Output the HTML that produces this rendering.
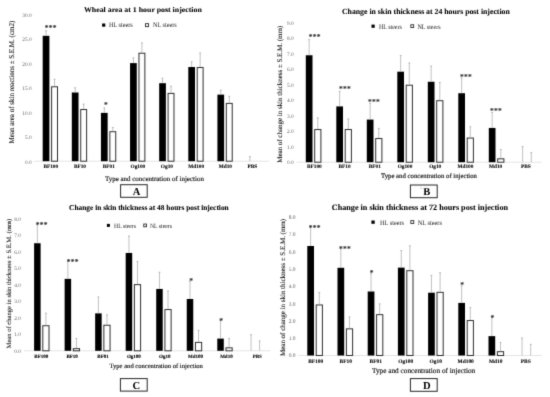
<!DOCTYPE html>
<html><head><meta charset="utf-8"><title>Skin reaction figure</title>
<style>html,body{margin:0;padding:0;background:#fff;width:550px;height:397px;overflow:hidden}svg{display:block}</style>
</head><body>
<svg width="550" height="397" viewBox="0 0 550 397" text-rendering="geometricPrecision" font-family='"Liberation Serif", "Times New Roman", serif'>
<defs><filter id="soft" filterUnits="userSpaceOnUse" x="0" y="0" width="550" height="397" color-interpolation-filters="sRGB"><feConvolveMatrix order="3" kernelMatrix="0.0144 0.0912 0.0144 0.0912 0.5776 0.0912 0.0144 0.0912 0.0144" edgeMode="duplicate"/></filter></defs><rect width="550" height="397" fill="#fff"/><g filter="url(#soft)"><rect width="550" height="397" fill="#fff"/>
<g id="panelA"><line x1="34.2" y1="161.2" x2="269" y2="161.2" stroke="#d9d9d9" stroke-width="0.7"/>
<text x="31.6" y="163.51" font-size="5.3" fill="#656565" text-anchor="end">0.0</text>
<text x="31.6" y="139.01" font-size="5.3" fill="#656565" text-anchor="end">5.0</text>
<text x="31.6" y="114.51" font-size="5.3" fill="#656565" text-anchor="end">10.0</text>
<text x="31.6" y="90.01" font-size="5.3" fill="#656565" text-anchor="end">15.0</text>
<text x="31.6" y="65.51" font-size="5.3" fill="#656565" text-anchor="end">20.0</text>
<text x="31.6" y="41.01" font-size="5.3" fill="#656565" text-anchor="end">25.0</text>
<text x="31.6" y="16.51" font-size="5.3" fill="#656565" text-anchor="end">30.0</text>
<rect x="42.7" y="35.81" width="6.7" height="125.39" fill="#000"/>
<line x1="46.05" y1="35.81" x2="46.05" y2="30.42" stroke="#b3b3b3" stroke-width="0.8"/>
<line x1="45.15" y1="30.77" x2="46.95" y2="30.77" stroke="#a0a0a0" stroke-width="0.7"/>
<rect x="51.6" y="86.78" width="5.9" height="74.42" fill="#fff" stroke="#2e2e2e" stroke-width="1.0"/>
<line x1="54.55" y1="86.28" x2="54.55" y2="78.98" stroke="#b3b3b3" stroke-width="0.8"/>
<line x1="53.65" y1="79.33" x2="55.45" y2="79.33" stroke="#a0a0a0" stroke-width="0.7"/>
<text x="50.8" y="168.45" font-size="5.3" font-weight="bold" fill="#000" stroke="#000" stroke-width="0.1" text-anchor="middle">BF100</text>
<rect x="71.82" y="92.5" width="6.7" height="68.7" fill="#000"/>
<line x1="75.17" y1="92.5" x2="75.17" y2="87.5" stroke="#b3b3b3" stroke-width="0.8"/>
<line x1="74.27" y1="87.85" x2="76.07" y2="87.85" stroke="#a0a0a0" stroke-width="0.7"/>
<rect x="80.72" y="109.51" width="5.9" height="51.69" fill="#fff" stroke="#2e2e2e" stroke-width="1.0"/>
<line x1="83.67" y1="109.01" x2="83.67" y2="103.82" stroke="#b3b3b3" stroke-width="0.8"/>
<line x1="82.77" y1="104.17" x2="84.57" y2="104.17" stroke="#a0a0a0" stroke-width="0.7"/>
<text x="80" y="168.45" font-size="5.3" font-weight="bold" fill="#000" stroke="#000" stroke-width="0.1" text-anchor="middle">BF10</text>
<rect x="100.94" y="112.89" width="6.7" height="48.31" fill="#000"/>
<line x1="104.29" y1="112.89" x2="104.29" y2="107.69" stroke="#b3b3b3" stroke-width="0.8"/>
<line x1="103.39" y1="108.04" x2="105.19" y2="108.04" stroke="#a0a0a0" stroke-width="0.7"/>
<rect x="109.84" y="131.71" width="5.9" height="29.49" fill="#fff" stroke="#2e2e2e" stroke-width="1.0"/>
<line x1="112.79" y1="131.21" x2="112.79" y2="127.19" stroke="#b3b3b3" stroke-width="0.8"/>
<line x1="111.89" y1="127.54" x2="113.69" y2="127.54" stroke="#a0a0a0" stroke-width="0.7"/>
<text x="108.8" y="168.45" font-size="5.3" font-weight="bold" fill="#000" stroke="#000" stroke-width="0.1" text-anchor="middle">BF01</text>
<rect x="130.06" y="63.1" width="6.7" height="98.1" fill="#000"/>
<line x1="133.41" y1="63.1" x2="133.41" y2="57.61" stroke="#b3b3b3" stroke-width="0.8"/>
<line x1="132.51" y1="57.96" x2="134.31" y2="57.96" stroke="#a0a0a0" stroke-width="0.7"/>
<rect x="138.96" y="53.21" width="5.9" height="107.99" fill="#fff" stroke="#2e2e2e" stroke-width="1.0"/>
<line x1="141.91" y1="52.71" x2="141.91" y2="42.62" stroke="#b3b3b3" stroke-width="0.8"/>
<line x1="141.01" y1="42.97" x2="142.81" y2="42.97" stroke="#a0a0a0" stroke-width="0.7"/>
<text x="137.9" y="168.45" font-size="5.3" font-weight="bold" fill="#000" stroke="#000" stroke-width="0.1" text-anchor="middle">Og100</text>
<rect x="159.18" y="83.19" width="6.7" height="78.01" fill="#000"/>
<line x1="162.53" y1="83.19" x2="162.53" y2="77.9" stroke="#b3b3b3" stroke-width="0.8"/>
<line x1="161.63" y1="78.25" x2="163.43" y2="78.25" stroke="#a0a0a0" stroke-width="0.7"/>
<rect x="168.08" y="93.39" width="5.9" height="67.81" fill="#fff" stroke="#2e2e2e" stroke-width="1.0"/>
<line x1="171.03" y1="92.89" x2="171.03" y2="85.89" stroke="#b3b3b3" stroke-width="0.8"/>
<line x1="170.13" y1="86.24" x2="171.93" y2="86.24" stroke="#a0a0a0" stroke-width="0.7"/>
<text x="166.9" y="168.45" font-size="5.3" font-weight="bold" fill="#000" stroke="#000" stroke-width="0.1" text-anchor="middle">Og10</text>
<rect x="188.3" y="67.02" width="6.7" height="94.18" fill="#000"/>
<line x1="191.65" y1="67.02" x2="191.65" y2="61.53" stroke="#b3b3b3" stroke-width="0.8"/>
<line x1="190.75" y1="61.88" x2="192.55" y2="61.88" stroke="#a0a0a0" stroke-width="0.7"/>
<rect x="197.2" y="67.52" width="5.9" height="93.68" fill="#fff" stroke="#2e2e2e" stroke-width="1.0"/>
<line x1="200.15" y1="67.02" x2="200.15" y2="52.71" stroke="#b3b3b3" stroke-width="0.8"/>
<line x1="199.25" y1="53.06" x2="201.05" y2="53.06" stroke="#a0a0a0" stroke-width="0.7"/>
<text x="196.2" y="168.45" font-size="5.3" font-weight="bold" fill="#000" stroke="#000" stroke-width="0.1" text-anchor="middle">Md100</text>
<rect x="217.42" y="94.61" width="6.7" height="66.59" fill="#000"/>
<line x1="220.77" y1="94.61" x2="220.77" y2="89.9" stroke="#b3b3b3" stroke-width="0.8"/>
<line x1="219.87" y1="90.25" x2="221.67" y2="90.25" stroke="#a0a0a0" stroke-width="0.7"/>
<rect x="226.32" y="103.39" width="5.9" height="57.81" fill="#fff" stroke="#2e2e2e" stroke-width="1.0"/>
<line x1="229.27" y1="102.89" x2="229.27" y2="95.98" stroke="#b3b3b3" stroke-width="0.8"/>
<line x1="228.37" y1="96.33" x2="230.17" y2="96.33" stroke="#a0a0a0" stroke-width="0.7"/>
<text x="225.4" y="168.45" font-size="5.3" font-weight="bold" fill="#000" stroke="#000" stroke-width="0.1" text-anchor="middle">Md10</text>
<line x1="249.89" y1="161.2" x2="249.89" y2="156.3" stroke="#b3b3b3" stroke-width="0.8"/>
<line x1="248.99" y1="156.65" x2="250.79" y2="156.65" stroke="#a0a0a0" stroke-width="0.7"/>
<text x="252.3" y="168.45" font-size="5.3" font-weight="bold" fill="#000" stroke="#000" stroke-width="0.1" text-anchor="middle">PBS</text>
<text x="44.65" y="30.05" font-size="7.6" font-weight="bold" fill="#2a2a2a" stroke="#2a2a2a" stroke-width="0.1" letter-spacing="0.2">***</text>
<text x="104.05" y="107.25" font-size="7.6" font-weight="bold" fill="#2a2a2a" stroke="#2a2a2a" stroke-width="0.1" letter-spacing="0.2">*</text>
<text x="84" y="11.95" font-size="7.3" font-weight="bold" fill="#000" stroke="#000" stroke-width="0.06" textLength="117.8" lengthAdjust="spacingAndGlyphs">Wheal area at 1 hour post injection</text>
<rect x="102.1" y="23.5" width="3.2" height="3.2" fill="#000"/>
<rect x="145.55" y="23.65" width="3" height="3" fill="#fff" stroke="#2a2a2a" stroke-width="0.9"/>
<text x="108.9" y="26.8" font-size="7.0" fill="#1a1a1a" textLength="23.9" lengthAdjust="spacingAndGlyphs">HL steers</text>
<text x="153" y="26.8" font-size="7.0" fill="#1a1a1a" textLength="23.6" lengthAdjust="spacingAndGlyphs">NL steers</text>
<text x="104.9" y="180.7" font-size="7.0" fill="#111" stroke="#111" stroke-width="0.15" textLength="99" lengthAdjust="spacingAndGlyphs">Type and concentration of injection</text>
<rect x="120.6" y="184.7" width="26.6" height="12.6" fill="none" stroke="#262626" stroke-width="1"/>
<text x="132.7" y="195.3" font-size="10.5" font-weight="bold" fill="#000">A</text>
<text x="129.2" y="193.3" font-size="8" fill="#c8c8c8">`</text>
<text transform="translate(14.4,143.4) rotate(-90)" x="0" y="0" font-size="7.4" fill="#111" stroke="#111" stroke-width="0.08" textLength="122.7" lengthAdjust="spacingAndGlyphs">Mean area of skin reactions ± S.E.M. (cm2)</text></g>
<g id="panelB"><line x1="296.5" y1="162.2" x2="541.8" y2="162.2" stroke="#d9d9d9" stroke-width="0.7"/>
<text x="293.8" y="164.14" font-size="5.4" fill="#656565" text-anchor="end">0.0</text>
<text x="293.8" y="148.64" font-size="5.4" fill="#656565" text-anchor="end">1.0</text>
<text x="293.8" y="133.14" font-size="5.4" fill="#656565" text-anchor="end">2.0</text>
<text x="293.8" y="117.64" font-size="5.4" fill="#656565" text-anchor="end">3.0</text>
<text x="293.8" y="102.14" font-size="5.4" fill="#656565" text-anchor="end">4.0</text>
<text x="293.8" y="86.64" font-size="5.4" fill="#656565" text-anchor="end">5.0</text>
<text x="293.8" y="71.14" font-size="5.4" fill="#656565" text-anchor="end">6.0</text>
<text x="293.8" y="55.64" font-size="5.4" fill="#656565" text-anchor="end">7.0</text>
<text x="293.8" y="40.14" font-size="5.4" fill="#656565" text-anchor="end">8.0</text>
<text x="293.8" y="24.64" font-size="5.4" fill="#656565" text-anchor="end">9.0</text>
<rect x="305.8" y="55.25" width="6.7" height="106.95" fill="#000"/>
<line x1="309.15" y1="55.25" x2="309.15" y2="39.28" stroke="#b3b3b3" stroke-width="0.8"/>
<line x1="308.25" y1="39.63" x2="310.05" y2="39.63" stroke="#a0a0a0" stroke-width="0.7"/>
<rect x="314.7" y="129.53" width="6.2" height="32.67" fill="#fff" stroke="#2e2e2e" stroke-width="1.0"/>
<line x1="317.8" y1="129.03" x2="317.8" y2="117.56" stroke="#b3b3b3" stroke-width="0.8"/>
<line x1="316.9" y1="117.91" x2="318.7" y2="117.91" stroke="#a0a0a0" stroke-width="0.7"/>
<text x="314.4" y="168.35" font-size="5.3" font-weight="bold" fill="#000" stroke="#000" stroke-width="0.1" text-anchor="middle">BF100</text>
<rect x="336.3" y="106.4" width="6.7" height="55.8" fill="#000"/>
<line x1="339.65" y1="106.4" x2="339.65" y2="90.9" stroke="#b3b3b3" stroke-width="0.8"/>
<line x1="338.75" y1="91.25" x2="340.55" y2="91.25" stroke="#a0a0a0" stroke-width="0.7"/>
<rect x="345.2" y="129.53" width="6.2" height="32.67" fill="#fff" stroke="#2e2e2e" stroke-width="1.0"/>
<line x1="348.3" y1="129.03" x2="348.3" y2="118.64" stroke="#b3b3b3" stroke-width="0.8"/>
<line x1="347.4" y1="118.99" x2="349.2" y2="118.99" stroke="#a0a0a0" stroke-width="0.7"/>
<text x="344.6" y="168.35" font-size="5.3" font-weight="bold" fill="#000" stroke="#000" stroke-width="0.1" text-anchor="middle">BF10</text>
<rect x="366.8" y="119.57" width="6.7" height="42.62" fill="#000"/>
<line x1="370.15" y1="119.57" x2="370.15" y2="102.99" stroke="#b3b3b3" stroke-width="0.8"/>
<line x1="369.25" y1="103.34" x2="371.05" y2="103.34" stroke="#a0a0a0" stroke-width="0.7"/>
<rect x="375.7" y="138.52" width="6.2" height="23.68" fill="#fff" stroke="#2e2e2e" stroke-width="1.0"/>
<line x1="378.8" y1="138.02" x2="378.8" y2="128.1" stroke="#b3b3b3" stroke-width="0.8"/>
<line x1="377.9" y1="128.45" x2="379.7" y2="128.45" stroke="#a0a0a0" stroke-width="0.7"/>
<text x="374.8" y="168.35" font-size="5.3" font-weight="bold" fill="#000" stroke="#000" stroke-width="0.1" text-anchor="middle">BF01</text>
<rect x="397.3" y="71.68" width="6.7" height="90.52" fill="#000"/>
<line x1="400.65" y1="71.68" x2="400.65" y2="55.25" stroke="#b3b3b3" stroke-width="0.8"/>
<line x1="399.75" y1="55.6" x2="401.55" y2="55.6" stroke="#a0a0a0" stroke-width="0.7"/>
<rect x="406.2" y="85.2" width="6.2" height="77" fill="#fff" stroke="#2e2e2e" stroke-width="1.0"/>
<line x1="409.3" y1="84.7" x2="409.3" y2="62.69" stroke="#b3b3b3" stroke-width="0.8"/>
<line x1="408.4" y1="63.04" x2="410.2" y2="63.04" stroke="#a0a0a0" stroke-width="0.7"/>
<text x="405" y="168.35" font-size="5.3" font-weight="bold" fill="#000" stroke="#000" stroke-width="0.1" text-anchor="middle">Og100</text>
<rect x="427.8" y="81.75" width="6.7" height="80.45" fill="#000"/>
<line x1="431.15" y1="81.75" x2="431.15" y2="65.79" stroke="#b3b3b3" stroke-width="0.8"/>
<line x1="430.25" y1="66.14" x2="432.05" y2="66.14" stroke="#a0a0a0" stroke-width="0.7"/>
<rect x="436.7" y="100.7" width="6.2" height="61.5" fill="#fff" stroke="#2e2e2e" stroke-width="1.0"/>
<line x1="439.8" y1="100.2" x2="439.8" y2="82.06" stroke="#b3b3b3" stroke-width="0.8"/>
<line x1="438.9" y1="82.41" x2="440.7" y2="82.41" stroke="#a0a0a0" stroke-width="0.7"/>
<text x="435.2" y="168.35" font-size="5.3" font-weight="bold" fill="#000" stroke="#000" stroke-width="0.1" text-anchor="middle">Og10</text>
<rect x="458.3" y="93.22" width="6.7" height="68.98" fill="#000"/>
<line x1="461.65" y1="93.22" x2="461.65" y2="77.72" stroke="#b3b3b3" stroke-width="0.8"/>
<line x1="460.75" y1="78.07" x2="462.55" y2="78.07" stroke="#a0a0a0" stroke-width="0.7"/>
<rect x="467.2" y="138.05" width="6.2" height="24.14" fill="#fff" stroke="#2e2e2e" stroke-width="1.0"/>
<line x1="470.3" y1="137.55" x2="470.3" y2="126.39" stroke="#b3b3b3" stroke-width="0.8"/>
<line x1="469.4" y1="126.74" x2="471.2" y2="126.74" stroke="#a0a0a0" stroke-width="0.7"/>
<text x="465.4" y="168.35" font-size="5.3" font-weight="bold" fill="#000" stroke="#000" stroke-width="0.1" text-anchor="middle">Md100</text>
<rect x="488.8" y="127.94" width="6.7" height="34.26" fill="#000"/>
<line x1="492.15" y1="127.94" x2="492.15" y2="112.13" stroke="#b3b3b3" stroke-width="0.8"/>
<line x1="491.25" y1="112.48" x2="493.05" y2="112.48" stroke="#a0a0a0" stroke-width="0.7"/>
<rect x="497.7" y="158.82" width="6.2" height="3.38" fill="#fff" stroke="#2e2e2e" stroke-width="1.0"/>
<line x1="500.8" y1="158.32" x2="500.8" y2="149.18" stroke="#b3b3b3" stroke-width="0.8"/>
<line x1="499.9" y1="149.53" x2="501.7" y2="149.53" stroke="#a0a0a0" stroke-width="0.7"/>
<text x="495.6" y="168.35" font-size="5.3" font-weight="bold" fill="#000" stroke="#000" stroke-width="0.1" text-anchor="middle">Md10</text>
<line x1="522.65" y1="162.2" x2="522.65" y2="146.23" stroke="#b3b3b3" stroke-width="0.8"/>
<line x1="521.75" y1="146.58" x2="523.55" y2="146.58" stroke="#a0a0a0" stroke-width="0.7"/>
<line x1="531.3" y1="162.2" x2="531.3" y2="152.28" stroke="#b3b3b3" stroke-width="0.8"/>
<line x1="530.4" y1="152.63" x2="532.2" y2="152.63" stroke="#a0a0a0" stroke-width="0.7"/>
<text x="525.8" y="168.35" font-size="5.3" font-weight="bold" fill="#000" stroke="#000" stroke-width="0.1" text-anchor="middle">PBS</text>
<text x="308.65" y="39.25" font-size="7.6" font-weight="bold" fill="#2a2a2a" stroke="#2a2a2a" stroke-width="0.1" letter-spacing="0.2">***</text>
<text x="339.05" y="91.05" font-size="7.6" font-weight="bold" fill="#2a2a2a" stroke="#2a2a2a" stroke-width="0.1" letter-spacing="0.2">***</text>
<text x="367.95" y="104.15" font-size="7.6" font-weight="bold" fill="#2a2a2a" stroke="#2a2a2a" stroke-width="0.1" letter-spacing="0.2">***</text>
<text x="460.05" y="78.65" font-size="7.6" font-weight="bold" fill="#2a2a2a" stroke="#2a2a2a" stroke-width="0.1" letter-spacing="0.2">***</text>
<text x="490.05" y="113.15" font-size="7.6" font-weight="bold" fill="#2a2a2a" stroke="#2a2a2a" stroke-width="0.1" letter-spacing="0.2">***</text>
<text x="342" y="13.8" font-size="7.76" font-weight="bold" fill="#000" stroke="#000" stroke-width="0.06" textLength="167.8" lengthAdjust="spacingAndGlyphs">Change in skin thickness at 24 hours post injection</text>
<rect x="371.5" y="24.6" width="3.2" height="3.2" fill="#000"/>
<rect x="410.85" y="24.75" width="2.8" height="2.8" fill="#fff" stroke="#2a2a2a" stroke-width="0.9"/>
<text x="378.9" y="29" font-size="6.8" fill="#1a1a1a" textLength="22.9" lengthAdjust="spacingAndGlyphs">HL steers</text>
<text x="417.4" y="29" font-size="6.8" fill="#1a1a1a" textLength="23.2" lengthAdjust="spacingAndGlyphs">NL steers</text>
<text x="381" y="178.3" font-size="6.76" fill="#111" stroke="#111" stroke-width="0.15" textLength="96" lengthAdjust="spacingAndGlyphs">Type and concentration of injection</text>
<rect x="410.4" y="185" width="26.8" height="12.7" fill="none" stroke="#262626" stroke-width="1"/>
<text x="423.29" y="195.4" font-size="10.5" font-weight="bold" fill="#000">B</text>
<text x="419.8" y="193.4" font-size="8" fill="#8a8a8a">`</text>
<text transform="translate(281.7,162.8) rotate(-90)" x="0" y="0" font-size="7.0" fill="#111" stroke="#111" stroke-width="0.08" textLength="137" lengthAdjust="spacingAndGlyphs">Mean of change in skin thickness ± S.E.M. (mm)</text></g>
<g id="panelC"><line x1="24" y1="350.8" x2="270" y2="350.8" stroke="#d9d9d9" stroke-width="0.7"/>
<text x="21" y="352.74" font-size="5.4" fill="#656565" text-anchor="end">0.0</text>
<text x="21" y="336.24" font-size="5.4" fill="#656565" text-anchor="end">1.0</text>
<text x="21" y="319.74" font-size="5.4" fill="#656565" text-anchor="end">2.0</text>
<text x="21" y="303.24" font-size="5.4" fill="#656565" text-anchor="end">3.0</text>
<text x="21" y="286.74" font-size="5.4" fill="#656565" text-anchor="end">4.0</text>
<text x="21" y="270.24" font-size="5.4" fill="#656565" text-anchor="end">5.0</text>
<text x="21" y="253.74" font-size="5.4" fill="#656565" text-anchor="end">6.0</text>
<text x="21" y="237.24" font-size="5.4" fill="#656565" text-anchor="end">7.0</text>
<text x="21" y="220.74" font-size="5.4" fill="#656565" text-anchor="end">8.0</text>
<rect x="34.1" y="243.22" width="6.5" height="107.58" fill="#000"/>
<line x1="37.35" y1="243.22" x2="37.35" y2="224.41" stroke="#b3b3b3" stroke-width="0.8"/>
<line x1="36.45" y1="224.76" x2="38.25" y2="224.76" stroke="#a0a0a0" stroke-width="0.7"/>
<rect x="42.8" y="325.73" width="6.2" height="25.07" fill="#fff" stroke="#2e2e2e" stroke-width="1.0"/>
<line x1="45.9" y1="325.23" x2="45.9" y2="312.85" stroke="#b3b3b3" stroke-width="0.8"/>
<line x1="45" y1="313.2" x2="46.8" y2="313.2" stroke="#a0a0a0" stroke-width="0.7"/>
<text x="41.3" y="358.25" font-size="5.0" font-weight="bold" fill="#000" stroke="#000" stroke-width="0.1" text-anchor="middle">BF100</text>
<rect x="64.63" y="278.86" width="6.5" height="71.94" fill="#000"/>
<line x1="67.88" y1="278.86" x2="67.88" y2="260.71" stroke="#b3b3b3" stroke-width="0.8"/>
<line x1="66.98" y1="261.06" x2="68.78" y2="261.06" stroke="#a0a0a0" stroke-width="0.7"/>
<rect x="73.33" y="348.66" width="6.2" height="2.14" fill="#fff" stroke="#2e2e2e" stroke-width="1.0"/>
<line x1="76.43" y1="348.16" x2="76.43" y2="338.1" stroke="#b3b3b3" stroke-width="0.8"/>
<line x1="75.53" y1="338.45" x2="77.33" y2="338.45" stroke="#a0a0a0" stroke-width="0.7"/>
<text x="72.15" y="358.25" font-size="5.0" font-weight="bold" fill="#000" stroke="#000" stroke-width="0.1" text-anchor="middle">BF10</text>
<rect x="95.16" y="313.35" width="6.5" height="37.45" fill="#000"/>
<line x1="98.41" y1="313.35" x2="98.41" y2="296.68" stroke="#b3b3b3" stroke-width="0.8"/>
<line x1="97.51" y1="297.03" x2="99.31" y2="297.03" stroke="#a0a0a0" stroke-width="0.7"/>
<rect x="103.86" y="325.23" width="6.2" height="25.57" fill="#fff" stroke="#2e2e2e" stroke-width="1.0"/>
<line x1="106.96" y1="324.73" x2="106.96" y2="314.5" stroke="#b3b3b3" stroke-width="0.8"/>
<line x1="106.06" y1="314.85" x2="107.86" y2="314.85" stroke="#a0a0a0" stroke-width="0.7"/>
<text x="103" y="358.25" font-size="5.0" font-weight="bold" fill="#000" stroke="#000" stroke-width="0.1" text-anchor="middle">BF01</text>
<rect x="125.69" y="252.96" width="6.5" height="97.84" fill="#000"/>
<line x1="128.94" y1="252.96" x2="128.94" y2="235.8" stroke="#b3b3b3" stroke-width="0.8"/>
<line x1="128.04" y1="236.15" x2="129.84" y2="236.15" stroke="#a0a0a0" stroke-width="0.7"/>
<rect x="134.39" y="284.64" width="6.2" height="66.16" fill="#fff" stroke="#2e2e2e" stroke-width="1.0"/>
<line x1="137.49" y1="284.14" x2="137.49" y2="261.2" stroke="#b3b3b3" stroke-width="0.8"/>
<line x1="136.59" y1="261.56" x2="138.39" y2="261.56" stroke="#a0a0a0" stroke-width="0.7"/>
<text x="133.85" y="358.25" font-size="5.0" font-weight="bold" fill="#000" stroke="#000" stroke-width="0.1" text-anchor="middle">Og100</text>
<rect x="156.22" y="288.93" width="6.5" height="61.88" fill="#000"/>
<line x1="159.47" y1="288.93" x2="159.47" y2="271.93" stroke="#b3b3b3" stroke-width="0.8"/>
<line x1="158.57" y1="272.28" x2="160.37" y2="272.28" stroke="#a0a0a0" stroke-width="0.7"/>
<rect x="164.92" y="309.56" width="6.2" height="41.24" fill="#fff" stroke="#2e2e2e" stroke-width="1.0"/>
<line x1="168.02" y1="309.06" x2="168.02" y2="290.74" stroke="#b3b3b3" stroke-width="0.8"/>
<line x1="167.12" y1="291.09" x2="168.92" y2="291.09" stroke="#a0a0a0" stroke-width="0.7"/>
<text x="164.7" y="358.25" font-size="5.0" font-weight="bold" fill="#000" stroke="#000" stroke-width="0.1" text-anchor="middle">Og10</text>
<rect x="186.75" y="298.99" width="6.5" height="51.81" fill="#000"/>
<line x1="190" y1="298.99" x2="190" y2="280.84" stroke="#b3b3b3" stroke-width="0.8"/>
<line x1="189.1" y1="281.19" x2="190.9" y2="281.19" stroke="#a0a0a0" stroke-width="0.7"/>
<rect x="195.45" y="342.39" width="6.2" height="8.41" fill="#fff" stroke="#2e2e2e" stroke-width="1.0"/>
<line x1="198.55" y1="341.89" x2="198.55" y2="330.01" stroke="#b3b3b3" stroke-width="0.8"/>
<line x1="197.65" y1="330.36" x2="199.45" y2="330.36" stroke="#a0a0a0" stroke-width="0.7"/>
<text x="195.55" y="358.25" font-size="5.0" font-weight="bold" fill="#000" stroke="#000" stroke-width="0.1" text-anchor="middle">Md100</text>
<rect x="217.28" y="338.59" width="6.5" height="12.21" fill="#000"/>
<line x1="220.53" y1="338.59" x2="220.53" y2="320.44" stroke="#b3b3b3" stroke-width="0.8"/>
<line x1="219.63" y1="320.79" x2="221.43" y2="320.79" stroke="#a0a0a0" stroke-width="0.7"/>
<rect x="225.98" y="347.84" width="6.2" height="2.96" fill="#fff" stroke="#2e2e2e" stroke-width="1.0"/>
<line x1="229.08" y1="347.34" x2="229.08" y2="338.1" stroke="#b3b3b3" stroke-width="0.8"/>
<line x1="228.18" y1="338.45" x2="229.98" y2="338.45" stroke="#a0a0a0" stroke-width="0.7"/>
<text x="226.4" y="358.25" font-size="5.0" font-weight="bold" fill="#000" stroke="#000" stroke-width="0.1" text-anchor="middle">Md10</text>
<line x1="251.06" y1="350.8" x2="251.06" y2="334.3" stroke="#b3b3b3" stroke-width="0.8"/>
<line x1="250.16" y1="334.65" x2="251.96" y2="334.65" stroke="#a0a0a0" stroke-width="0.7"/>
<line x1="259.61" y1="350.8" x2="259.61" y2="340.57" stroke="#b3b3b3" stroke-width="0.8"/>
<line x1="258.71" y1="340.92" x2="260.51" y2="340.92" stroke="#a0a0a0" stroke-width="0.7"/>
<text x="257.25" y="358.25" font-size="5.0" font-weight="bold" fill="#000" stroke="#000" stroke-width="0.1" text-anchor="middle">PBS</text>
<text x="35.65" y="227.45" font-size="7.6" font-weight="bold" fill="#2a2a2a" stroke="#2a2a2a" stroke-width="0.1" letter-spacing="0.2">***</text>
<text x="66.65" y="264.05" font-size="7.6" font-weight="bold" fill="#2a2a2a" stroke="#2a2a2a" stroke-width="0.1" letter-spacing="0.2">***</text>
<text x="189.15" y="283.35" font-size="7.6" font-weight="bold" fill="#2a2a2a" stroke="#2a2a2a" stroke-width="0.1" letter-spacing="0.2">*</text>
<text x="219.35" y="322.95" font-size="7.6" font-weight="bold" fill="#2a2a2a" stroke="#2a2a2a" stroke-width="0.1" letter-spacing="0.2">*</text>
<text x="69.1" y="210.25" font-size="7.39" font-weight="bold" fill="#000" stroke="#000" stroke-width="0.06" textLength="159.6" lengthAdjust="spacingAndGlyphs">Change in skin thickness at 48 hours post injection</text>
<rect x="106.9" y="223.9" width="3" height="3" fill="#000"/>
<rect x="143.75" y="224.05" width="2.7" height="2.7" fill="#fff" stroke="#2a2a2a" stroke-width="0.9"/>
<text x="114" y="227.9" font-size="6.6" fill="#1a1a1a" textLength="22" lengthAdjust="spacingAndGlyphs">HL steers</text>
<text x="149.9" y="227.9" font-size="6.6" fill="#1a1a1a" textLength="22.1" lengthAdjust="spacingAndGlyphs">NL steers</text>
<text x="109.5" y="367.9" font-size="6.57" fill="#111" stroke="#111" stroke-width="0.15" textLength="93.3" lengthAdjust="spacingAndGlyphs">Type and concentration of injection</text>
<rect x="120.4" y="378.6" width="26.8" height="12.5" fill="none" stroke="#262626" stroke-width="1"/>
<text x="132.59" y="389" font-size="10.6" font-weight="bold" fill="#000">C</text>
<text transform="translate(10.5,348.4) rotate(-90)" x="0" y="0" font-size="6.6" fill="#111" stroke="#111" stroke-width="0.08" textLength="129.5" lengthAdjust="spacingAndGlyphs">Mean of change in skin thickness ± S.E.M. (mm)</text></g>
<g id="panelD"><line x1="298" y1="355.5" x2="542" y2="355.5" stroke="#d9d9d9" stroke-width="0.7"/>
<text x="295.6" y="357.48" font-size="5.5" fill="#656565" text-anchor="end">0.0</text>
<text x="295.6" y="340.18" font-size="5.5" fill="#656565" text-anchor="end">1.0</text>
<text x="295.6" y="322.88" font-size="5.5" fill="#656565" text-anchor="end">2.0</text>
<text x="295.6" y="305.58" font-size="5.5" fill="#656565" text-anchor="end">3.0</text>
<text x="295.6" y="288.28" font-size="5.5" fill="#656565" text-anchor="end">4.0</text>
<text x="295.6" y="270.98" font-size="5.5" fill="#656565" text-anchor="end">5.0</text>
<text x="295.6" y="253.68" font-size="5.5" fill="#656565" text-anchor="end">6.0</text>
<text x="295.6" y="236.38" font-size="5.5" fill="#656565" text-anchor="end">7.0</text>
<text x="295.6" y="219.08" font-size="5.5" fill="#656565" text-anchor="end">8.0</text>
<rect x="307.3" y="245.99" width="6.7" height="109.51" fill="#000"/>
<line x1="310.65" y1="245.99" x2="310.65" y2="226.44" stroke="#b3b3b3" stroke-width="0.8"/>
<line x1="309.75" y1="226.79" x2="311.55" y2="226.79" stroke="#a0a0a0" stroke-width="0.7"/>
<rect x="316.2" y="304.96" width="6.2" height="50.54" fill="#fff" stroke="#2e2e2e" stroke-width="1.0"/>
<line x1="319.3" y1="304.46" x2="319.3" y2="292.18" stroke="#b3b3b3" stroke-width="0.8"/>
<line x1="318.4" y1="292.53" x2="320.2" y2="292.53" stroke="#a0a0a0" stroke-width="0.7"/>
<text x="315.7" y="362.78" font-size="5.4" font-weight="bold" fill="#000" stroke="#000" stroke-width="0.1" text-anchor="middle">BF100</text>
<rect x="337.5" y="267.79" width="6.7" height="87.71" fill="#000"/>
<line x1="340.85" y1="267.79" x2="340.85" y2="248.24" stroke="#b3b3b3" stroke-width="0.8"/>
<line x1="339.95" y1="248.59" x2="341.75" y2="248.59" stroke="#a0a0a0" stroke-width="0.7"/>
<rect x="346.4" y="328.84" width="6.2" height="26.66" fill="#fff" stroke="#2e2e2e" stroke-width="1.0"/>
<line x1="349.5" y1="328.34" x2="349.5" y2="316.57" stroke="#b3b3b3" stroke-width="0.8"/>
<line x1="348.6" y1="316.93" x2="350.4" y2="316.93" stroke="#a0a0a0" stroke-width="0.7"/>
<text x="345.7" y="362.78" font-size="5.4" font-weight="bold" fill="#000" stroke="#000" stroke-width="0.1" text-anchor="middle">BF10</text>
<rect x="367.7" y="291.49" width="6.7" height="64.01" fill="#000"/>
<line x1="371.05" y1="291.49" x2="371.05" y2="273.5" stroke="#b3b3b3" stroke-width="0.8"/>
<line x1="370.15" y1="273.85" x2="371.95" y2="273.85" stroke="#a0a0a0" stroke-width="0.7"/>
<rect x="376.6" y="314.65" width="6.2" height="40.85" fill="#fff" stroke="#2e2e2e" stroke-width="1.0"/>
<line x1="379.7" y1="314.15" x2="379.7" y2="303.6" stroke="#b3b3b3" stroke-width="0.8"/>
<line x1="378.8" y1="303.95" x2="380.6" y2="303.95" stroke="#a0a0a0" stroke-width="0.7"/>
<text x="375.7" y="362.78" font-size="5.4" font-weight="bold" fill="#000" stroke="#000" stroke-width="0.1" text-anchor="middle">BF01</text>
<rect x="397.9" y="267.62" width="6.7" height="87.88" fill="#000"/>
<line x1="401.25" y1="267.62" x2="401.25" y2="250.32" stroke="#b3b3b3" stroke-width="0.8"/>
<line x1="400.35" y1="250.67" x2="402.15" y2="250.67" stroke="#a0a0a0" stroke-width="0.7"/>
<rect x="406.8" y="270.71" width="6.2" height="84.79" fill="#fff" stroke="#2e2e2e" stroke-width="1.0"/>
<line x1="409.9" y1="270.21" x2="409.9" y2="245.47" stroke="#b3b3b3" stroke-width="0.8"/>
<line x1="409" y1="245.82" x2="410.8" y2="245.82" stroke="#a0a0a0" stroke-width="0.7"/>
<text x="405.7" y="362.78" font-size="5.4" font-weight="bold" fill="#000" stroke="#000" stroke-width="0.1" text-anchor="middle">Og100</text>
<rect x="428.1" y="292.7" width="6.7" height="62.8" fill="#000"/>
<line x1="431.45" y1="292.7" x2="431.45" y2="275.06" stroke="#b3b3b3" stroke-width="0.8"/>
<line x1="430.55" y1="275.41" x2="432.35" y2="275.41" stroke="#a0a0a0" stroke-width="0.7"/>
<rect x="437" y="292.34" width="6.2" height="63.16" fill="#fff" stroke="#2e2e2e" stroke-width="1.0"/>
<line x1="440.1" y1="291.84" x2="440.1" y2="272.46" stroke="#b3b3b3" stroke-width="0.8"/>
<line x1="439.2" y1="272.81" x2="441" y2="272.81" stroke="#a0a0a0" stroke-width="0.7"/>
<text x="435.7" y="362.78" font-size="5.4" font-weight="bold" fill="#000" stroke="#000" stroke-width="0.1" text-anchor="middle">Og10</text>
<rect x="458.3" y="302.91" width="6.7" height="52.59" fill="#000"/>
<line x1="461.65" y1="302.91" x2="461.65" y2="285.44" stroke="#b3b3b3" stroke-width="0.8"/>
<line x1="460.75" y1="285.79" x2="462.55" y2="285.79" stroke="#a0a0a0" stroke-width="0.7"/>
<rect x="467.2" y="320.54" width="6.2" height="34.96" fill="#fff" stroke="#2e2e2e" stroke-width="1.0"/>
<line x1="470.3" y1="320.04" x2="470.3" y2="307.23" stroke="#b3b3b3" stroke-width="0.8"/>
<line x1="469.4" y1="307.58" x2="471.2" y2="307.58" stroke="#a0a0a0" stroke-width="0.7"/>
<text x="465.7" y="362.78" font-size="5.4" font-weight="bold" fill="#000" stroke="#000" stroke-width="0.1" text-anchor="middle">Md100</text>
<rect x="488.5" y="336.12" width="6.7" height="19.38" fill="#000"/>
<line x1="491.85" y1="336.12" x2="491.85" y2="317.44" stroke="#b3b3b3" stroke-width="0.8"/>
<line x1="490.95" y1="317.79" x2="492.75" y2="317.79" stroke="#a0a0a0" stroke-width="0.7"/>
<rect x="497.4" y="351.68" width="6.2" height="3.83" fill="#fff" stroke="#2e2e2e" stroke-width="1.0"/>
<line x1="500.5" y1="351.18" x2="500.5" y2="342.18" stroke="#b3b3b3" stroke-width="0.8"/>
<line x1="499.6" y1="342.53" x2="501.4" y2="342.53" stroke="#a0a0a0" stroke-width="0.7"/>
<text x="495.7" y="362.78" font-size="5.4" font-weight="bold" fill="#000" stroke="#000" stroke-width="0.1" text-anchor="middle">Md10</text>
<line x1="522.05" y1="355.5" x2="522.05" y2="337.68" stroke="#b3b3b3" stroke-width="0.8"/>
<line x1="521.15" y1="338.03" x2="522.95" y2="338.03" stroke="#a0a0a0" stroke-width="0.7"/>
<line x1="530.7" y1="355.5" x2="530.7" y2="344.08" stroke="#b3b3b3" stroke-width="0.8"/>
<line x1="529.8" y1="344.43" x2="531.6" y2="344.43" stroke="#a0a0a0" stroke-width="0.7"/>
<text x="525.7" y="362.78" font-size="5.4" font-weight="bold" fill="#000" stroke="#000" stroke-width="0.1" text-anchor="middle">PBS</text>
<text x="308.65" y="229.85" font-size="7.6" font-weight="bold" fill="#2a2a2a" stroke="#2a2a2a" stroke-width="0.1" letter-spacing="0.2">***</text>
<text x="338.95" y="251.45" font-size="7.6" font-weight="bold" fill="#2a2a2a" stroke="#2a2a2a" stroke-width="0.1" letter-spacing="0.2">***</text>
<text x="369.65" y="275.25" font-size="7.6" font-weight="bold" fill="#2a2a2a" stroke="#2a2a2a" stroke-width="0.1" letter-spacing="0.2">*</text>
<text x="460.25" y="286.65" font-size="7.6" font-weight="bold" fill="#2a2a2a" stroke="#2a2a2a" stroke-width="0.1" letter-spacing="0.2">*</text>
<text x="490.45" y="319.65" font-size="7.6" font-weight="bold" fill="#2a2a2a" stroke="#2a2a2a" stroke-width="0.1" letter-spacing="0.2">*</text>
<text x="331.8" y="210.4" font-size="8.15" font-weight="bold" fill="#000" stroke="#000" stroke-width="0.06" textLength="176.2" lengthAdjust="spacingAndGlyphs">Change in skin thickness at 72 hours post injection</text>
<rect x="371.4" y="220.5" width="3.3" height="3.3" fill="#000"/>
<rect x="410.85" y="220.65" width="2.9" height="2.9" fill="#fff" stroke="#2a2a2a" stroke-width="0.9"/>
<text x="380" y="224.5" font-size="7.0" fill="#1a1a1a" textLength="24" lengthAdjust="spacingAndGlyphs">HL steers</text>
<text x="417.7" y="224.5" font-size="7.0" fill="#1a1a1a" textLength="24.2" lengthAdjust="spacingAndGlyphs">NL steers</text>
<text x="372" y="372.6" font-size="7.27" fill="#111" stroke="#111" stroke-width="0.15" textLength="103.2" lengthAdjust="spacingAndGlyphs">Type and concentration of injection</text>
<rect x="410.4" y="378.6" width="26.8" height="12.7" fill="none" stroke="#262626" stroke-width="1"/>
<text x="422.99" y="389" font-size="10.6" font-weight="bold" fill="#000">D</text>
<text transform="translate(284.6,356) rotate(-90)" x="0" y="0" font-size="7.0" fill="#111" stroke="#111" stroke-width="0.08" textLength="137.1" lengthAdjust="spacingAndGlyphs">Mean of change in skin thickness ± S.E.M. (mm)</text></g>
</g></svg>
</body></html>
